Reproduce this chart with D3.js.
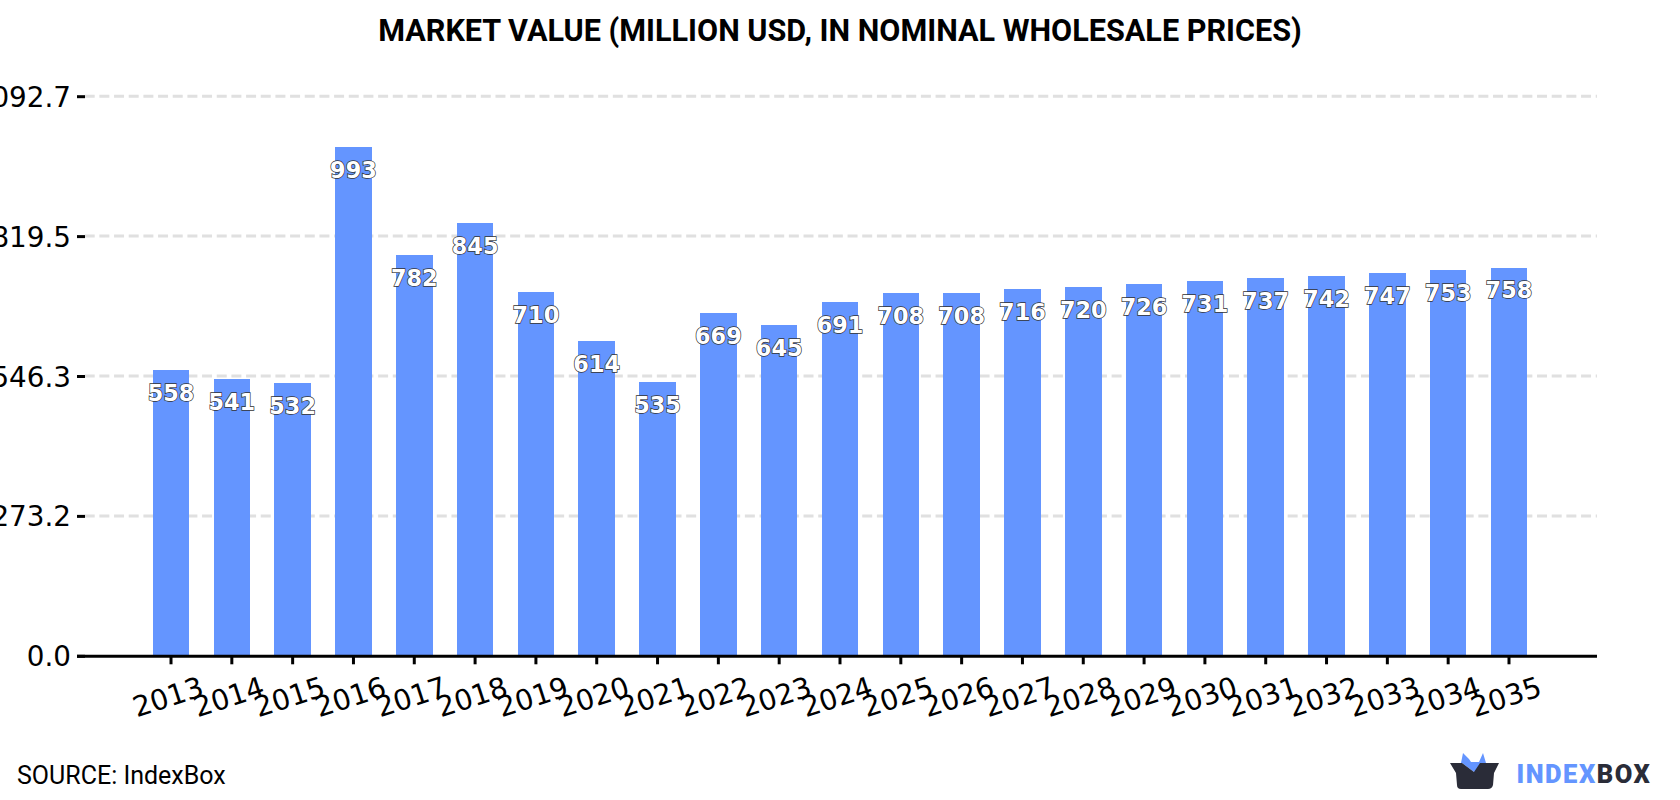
<!DOCTYPE html>
<html>
<head>
<meta charset="utf-8">
<script src="https://cdn.jsdelivr.net/npm/d3@7/dist/d3.min.js"></script>
<style>
html,body{margin:0;padding:0;background:#fff;overflow:hidden}
svg{display:block}
</style>
</head>
<body>
<svg id="chart" width="1680" height="800"></svg>
<script>
const years = [2013,2014,2015,2016,2017,2018,2019,2020,2021,2022,2023,2024,2025,2026,2027,2028,2029,2030,2031,2032,2033,2034,2035];
const marketValue = [558,541,532,993,782,845,710,614,535,669,645,691,708,708,716,720,726,731,737,742,747,753,758];
const yTicks = [0,273.2,546.3,819.5,1092.7];
const chartTitle = "MARKET VALUE (MILLION USD, IN NOMINAL WHOLESALE PRICES)";
const sourceText = "SOURCE: IndexBox";

const BLUE = "#6495ff", DARK = "#2a2c38";
const svg = d3.select("#chart");
const dejavu = "'DejaVu Sans', sans-serif";

const x = d3.scaleBand().domain(years).range([140.6,1539.4]).paddingInner(0.4).paddingOuter(0.2);
const y = d3.scaleLinear().domain([0,1092.7]).range([655.8,96.2]);

// title and source line
svg.append("text").attr("x",840).attr("y",41).attr("text-anchor","middle")
  .style("font","700 30.6px Roboto, sans-serif").style("fill","#000").text(chartTitle);
svg.append("text").attr("x",17).attr("y",784)
  .style("font","400 25px Roboto, sans-serif").style("fill","#000").text(sourceText);

// dashed grid behind the bars
svg.append("g").selectAll("line").data(yTicks.slice(1)).join("line")
  .attr("x1",84.7).attr("x2",1597).attr("y1",d=>y(d)).attr("y2",d=>y(d))
  .attr("stroke","#e0e0e0").attr("stroke-width",3).attr("stroke-dasharray","10,4.67");

// bars
svg.append("g").attr("shape-rendering","crispEdges").selectAll("rect").data(marketValue).join("rect")
  .attr("x",(d,i)=>x(years[i])).attr("width",x.bandwidth())
  .attr("y",d=>y(d)).attr("height",d=>y(0)-y(d)).attr("fill",BLUE);

// y axis: ticks and labels only
const yAxis = svg.append("g").attr("transform","translate(85,0)")
  .call(d3.axisLeft(y).tickValues(yTicks).tickFormat(d3.format(".1f")).tickSize(8).tickPadding(6));
yAxis.select(".domain").remove();
yAxis.selectAll("line").attr("stroke","#000").attr("stroke-width",3);
yAxis.selectAll("text").style("font",`400 27.8px ${dejavu}`).style("fill","#000").attr("dy","0.36em");

// x axis: baseline, ticks and slanted year labels
const xAxis = svg.append("g").attr("transform",`translate(0,${y(0)+0.5})`)
  .call(d3.axisBottom(x).tickSize(8).tickSizeOuter(0));
xAxis.select(".domain").attr("d","M77,0H1597").attr("stroke","#000").attr("stroke-width",3);
xAxis.selectAll("line").attr("stroke","#000").attr("stroke-width",3);
xAxis.selectAll("text").style("font",`400 28.4px ${dejavu}`).style("fill","#000")
  .attr("text-anchor","middle").attr("dy",0).attr("y",0)
  .attr("transform","translate(0,50) rotate(-18)");

// value labels: white digits with a thin dark outline
svg.append("g").selectAll("text").data(marketValue).join("text")
  .attr("x",(d,i)=>x(years[i])+x.bandwidth()/2).attr("y",d=>y(d)+30.8)
  .attr("text-anchor","middle")
  .style("font",`700 22.4px ${dejavu}`).style("fill","#fff")
  .style("stroke","#333").style("stroke-width",1.4).style("paint-order","stroke")
  .text(d=>d);

// logo mark and wordmark
const logo = svg.append("g").attr("transform","translate(1400,720)");
logo.append("path").attr("fill",BLUE)
  .attr("d","M61,43 L63,33 L69,39 L71,42 L79,42 L83,33 L86,43 L79,52 L74,52 L62,43 Z");
logo.append("path").attr("fill",DARK)
  .attr("d","M50,43 L62,43 L74,52 L80,43 L99,43 L94,53 L93,65 Q92,69 88,69 L61,69 Q57,69 57,65 L56,53 Z");
logo.append("text").attr("x",116.5).attr("y",62.5).style("font","900 25.5px Roboto, sans-serif")
  .style("letter-spacing","1.5px")
  .selectAll("tspan").data([["INDEX",BLUE],["BOX",DARK]]).join("tspan")
  .attr("fill",d=>d[1]).text(d=>d[0]);
</script>
</body>
</html>
